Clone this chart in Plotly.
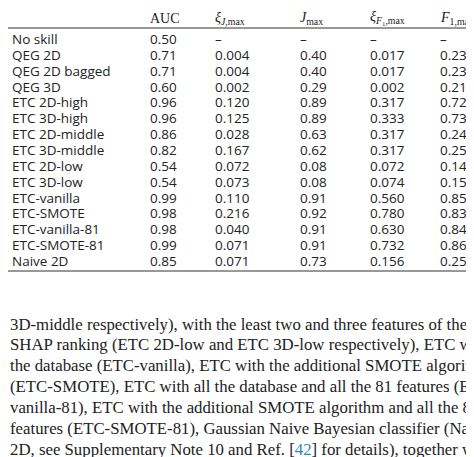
import plotly.graph_objects as go

models = ["No skill", "QEG 2D", "QEG 2D bagged", "QEG 3D", "ETC 2D-high", "ETC 3D-high",
          "ETC 2D-middle", "ETC 3D-middle", "ETC 2D-low", "ETC 3D-low", "ETC-vanilla",
          "ETC-SMOTE", "ETC-vanilla-81", "ETC-SMOTE-81", "Naive 2D"]
auc = ["0.50", "0.71", "0.71", "0.60", "0.96", "0.96", "0.86", "0.82", "0.54", "0.54",
       "0.99", "0.98", "0.98", "0.99", "0.85"]
xi_j = ["–", "0.004", "0.004", "0.002", "0.120", "0.125", "0.028", "0.167", "0.072", "0.073",
        "0.110", "0.216", "0.040", "0.071", "0.071"]
j_max = ["–", "0.40", "0.40", "0.29", "0.89", "0.89", "0.63", "0.62", "0.08", "0.08",
         "0.91", "0.92", "0.91", "0.91", "0.73"]
xi_f = ["–", "0.017", "0.017", "0.002", "0.317", "0.333", "0.317", "0.317", "0.072", "0.074",
        "0.560", "0.780", "0.630", "0.732", "0.156"]
f_max = ["–", "0.23", "0.23", "0.21", "0.72", "0.73", "0.24", "0.25", "0.14", "0.15",
         "0.85", "0.83", "0.84", "0.86", "0.25"]
headers = ["AUC", "<i>ξ</i><sub><i>J</i>,max</sub>", "<i>J</i><sub>max</sub>",
           "<i>ξ</i><sub><i>F</i><sub>1</sub>,max</sub>", "<i>F</i><sub>1,max</sub>"]
paragraph = [
    "3D-middle respectively), with the least two and three features of the",
    "SHAP ranking (ETC 2D-low and ETC 3D-low respectively), ETC with all",
    "the database (ETC-vanilla), ETC with the additional SMOTE algorithm",
    "(ETC-SMOTE), ETC with all the database and all the 81 features (ETC-",
    "vanilla-81), ETC with the additional SMOTE algorithm and all the 81",
    "features (ETC-SMOTE-81), Gaussian Naive Bayesian classifier (Naive",
    "2D, see Supplementary Note 10 and Ref. [<span style='color:#2a8ab8'>42</span>] for details), together with",
]

W, H = 474, 457
col_x = [140, 205, 290, 360, 430]
tfont = dict(family="Open Sans", size=13.5, color="#222")

fig = go.Figure()
ann = []
for hx, h in zip(col_x, headers):
    ann.append(dict(x=hx, y=10, text=h, font=dict(family="Liberation Serif", size=14, color="#222")))
for i, m in enumerate(models):
    y = 31 + i * 15.86
    ann.append(dict(x=2, y=y, text=m, font=tfont))
    for cx, col in zip(col_x, [auc, xi_j, j_max, xi_f, f_max]):
        ann.append(dict(x=cx, y=y, text=col[i], font=tfont))
for k, line in enumerate(paragraph):
    ann.append(dict(x=0, y=316 + k * 20.9, text=line,
                    font=dict(family="Liberation Serif", size=16.8, color="#222")))
for a in ann:
    a.update(xref="x", yref="y", showarrow=False, xanchor="left", yanchor="middle")
fig.update_layout(
    annotations=ann,
    shapes=[dict(type="line", x0=0, x1=W, y0=20, y1=20, line=dict(color="#333", width=1)),
            dict(type="line", x0=0, x1=W, y0=263, y1=263, line=dict(color="#333", width=1))],
    xaxis=dict(range=[0, W], visible=False, fixedrange=True),
    yaxis=dict(range=[H, 0], visible=False, fixedrange=True),
    width=W, height=H, margin=dict(l=0, r=0, t=0, b=0),
    plot_bgcolor="white", paper_bgcolor="white", showlegend=False,
)
fig.write_html("out.html")
